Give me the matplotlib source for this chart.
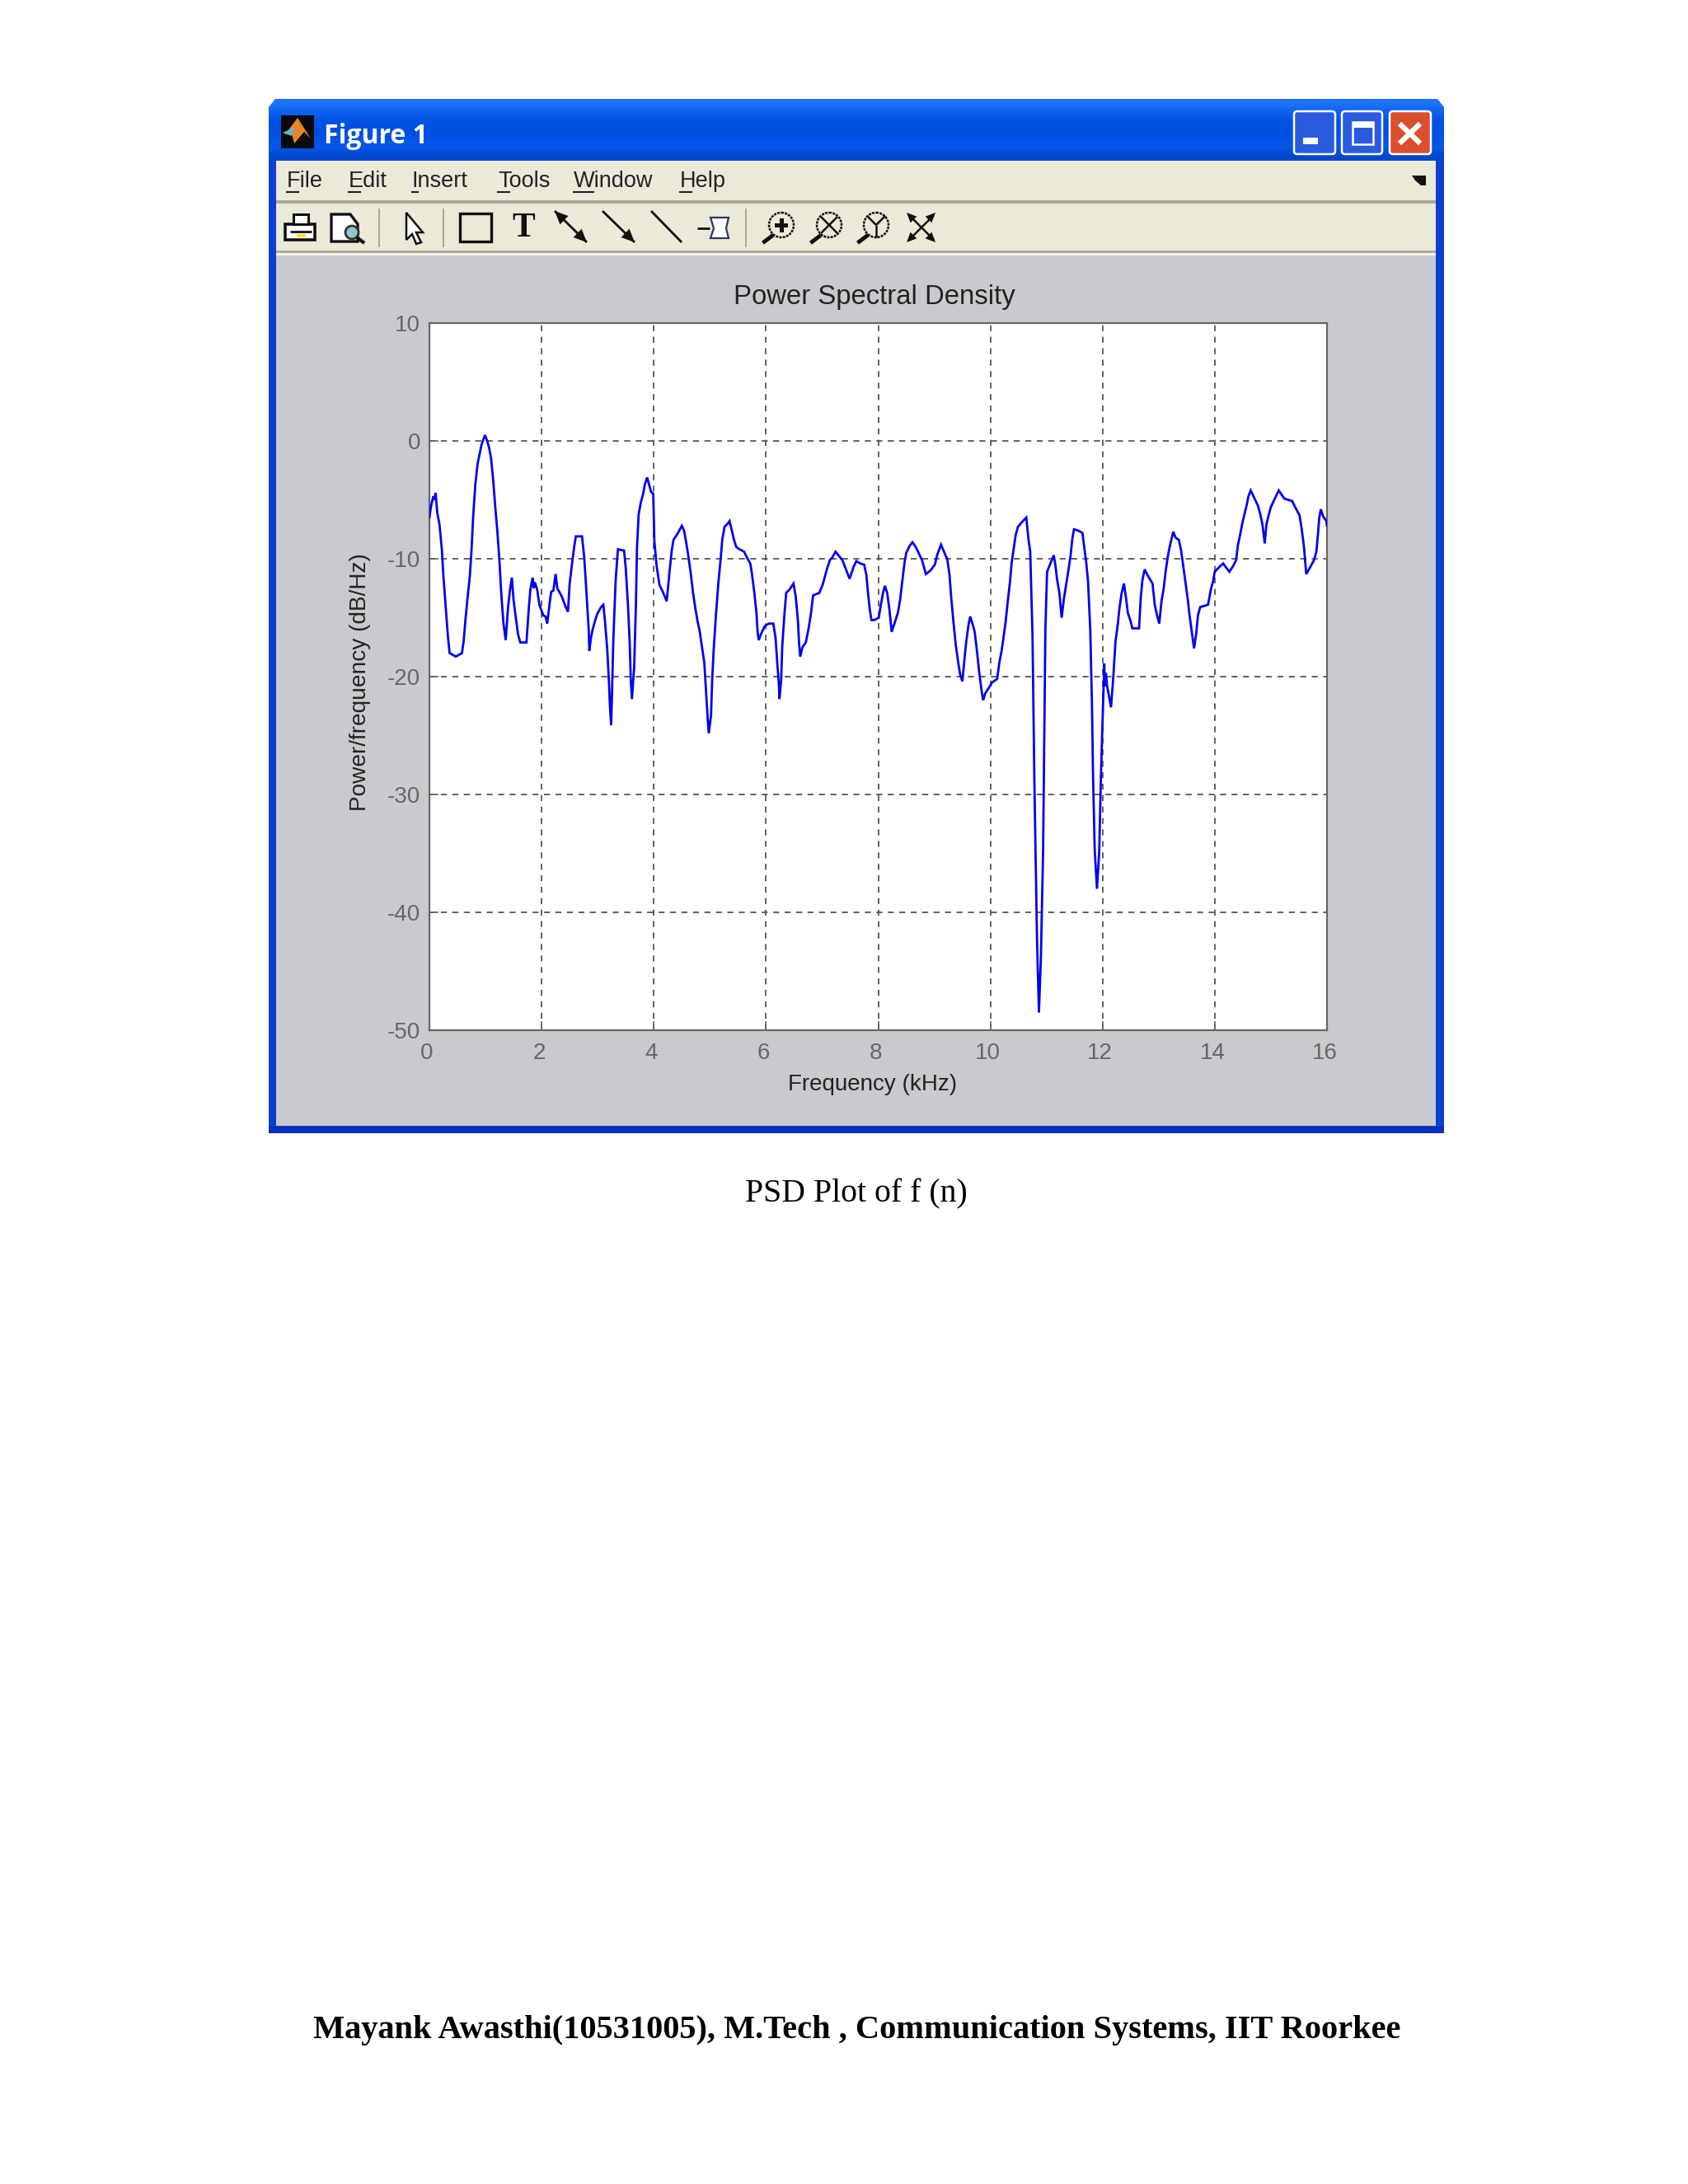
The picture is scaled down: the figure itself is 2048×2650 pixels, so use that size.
#!/usr/bin/env python3
import numpy as np
import matplotlib
matplotlib.use("Agg")
import matplotlib.pyplot as plt
from matplotlib.patches import Rectangle, Polygon, Circle, FancyBboxPatch
from matplotlib.transforms import ScaledTranslation

plt.rcParams["axes.unicode_minus"] = False

# PSD trace
freq_khz = [
    0.00, 0.03, 0.07, 0.09, 0.11, 0.14, 0.18, 0.22, 0.25, 0.29, 0.33, 0.36, 0.47, 0.58, 0.61, 0.64, 0.68, 0.72, 0.75, 0.78,
    0.82, 0.86, 0.89, 0.93, 0.99, 1.03, 1.06, 1.10, 1.14, 1.17, 1.21, 1.25, 1.28, 1.32, 1.36, 1.40, 1.44, 1.47, 1.50, 1.54,
    1.58, 1.62, 1.73, 1.77, 1.80, 1.84, 1.86, 1.88, 1.92, 1.96, 2.03, 2.07, 2.10, 2.14, 2.17, 2.21, 2.25, 2.28, 2.36, 2.43,
    2.47, 2.50, 2.54, 2.58, 2.61, 2.72, 2.76, 2.80, 2.84, 2.85, 2.88, 2.91, 2.95, 2.99, 3.06, 3.10, 3.13, 3.17, 3.20, 3.22,
    3.24, 3.28, 3.32, 3.36, 3.47, 3.50, 3.54, 3.57, 3.59, 3.61, 3.65, 3.68, 3.70, 3.73, 3.77, 3.81, 3.84, 3.88, 3.91, 3.95,
    3.99, 4.01, 4.05, 4.10, 4.16, 4.23, 4.28, 4.32, 4.35, 4.42, 4.50, 4.54, 4.58, 4.62, 4.66, 4.70, 4.74, 4.78, 4.82, 4.85,
    4.90, 4.93, 4.96, 4.98, 5.02, 5.04, 5.07, 5.11, 5.15, 5.19, 5.22, 5.26, 5.32, 5.35, 5.39, 5.43, 5.47, 5.53, 5.61, 5.66,
    5.72, 5.75, 5.79, 5.83, 5.85, 5.87, 5.91, 5.95, 5.98, 6.05, 6.13, 6.17, 6.20, 6.23, 6.24, 6.27, 6.29, 6.33, 6.36, 6.42,
    6.49, 6.53, 6.57, 6.59, 6.61, 6.65, 6.71, 6.76, 6.80, 6.84, 6.95, 7.01, 7.05, 7.09, 7.14, 7.18, 7.24, 7.29, 7.36, 7.49,
    7.56, 7.61, 7.68, 7.75, 7.79, 7.82, 7.85, 7.88, 7.93, 8.01, 8.04, 8.09, 8.12, 8.16, 8.20, 8.24, 8.29, 8.35, 8.39, 8.43,
    8.47, 8.50, 8.56, 8.61, 8.67, 8.73, 8.78, 8.82, 8.85, 8.93, 9.01, 9.05, 9.12, 9.19, 9.23, 9.27, 9.30, 9.34, 9.38, 9.42,
    9.46, 9.50, 9.54, 9.57, 9.61, 9.64, 9.68, 9.72, 9.76, 9.80, 9.84, 9.87, 9.91, 9.98, 10.03, 10.12, 10.16, 10.20, 10.23, 10.27,
    10.31, 10.35, 10.38, 10.42, 10.45, 10.49, 10.56, 10.64, 10.68, 10.71, 10.75, 10.785, 10.83, 10.865, 10.90, 10.94, 10.96, 10.98, 11.01, 11.07,
    11.13, 11.16, 11.19, 11.23, 11.27, 11.31, 11.35, 11.39, 11.43, 11.46, 11.49, 11.56, 11.64, 11.67, 11.71, 11.74, 11.78, 11.81, 11.83, 11.86,
    11.90, 11.94, 11.97, 12.01, 12.03, 12.04, 12.06, 12.08, 12.12, 12.15, 12.19, 12.21, 12.23, 12.27, 12.30, 12.34, 12.38, 12.42, 12.45, 12.50,
    12.53, 12.65, 12.68, 12.71, 12.75, 12.79, 12.89, 12.93, 12.97, 13.01, 13.05, 13.09, 13.12, 13.16, 13.19, 13.23, 13.26, 13.30, 13.36, 13.40,
    13.44, 13.48, 13.52, 13.55, 13.59, 13.63, 13.67, 13.70, 13.74, 13.88, 13.93, 13.97, 14.00, 14.08, 14.15, 14.21, 14.26, 14.33, 14.38, 14.41,
    14.45, 14.49, 14.53, 14.57, 14.60, 14.64, 14.70, 14.77, 14.81, 14.85, 14.89, 14.92, 14.96, 15.00, 15.07, 15.14, 15.24, 15.38, 15.43, 15.51,
    15.55, 15.59, 15.63, 15.69, 15.77, 15.81, 15.84, 15.86, 15.89, 15.93, 15.99, 16.00,
]
psd_db = [
    -6.5, -5.5, -4.7, -5.0, -4.4, -6.1, -7.1, -9.1, -11.5, -14.1, -16.6, -18.0, -18.3, -18.0, -17.0, -15.3, -13.3, -11.5, -9.3, -6.4,
    -3.6, -1.9, -1.2, -0.3, 0.5, 0.0, -0.5, -1.5, -3.5, -5.4, -7.6, -10.3, -12.9, -15.5, -16.9, -14.2, -12.5, -11.6, -13.5, -15.0,
    -16.4, -17.1, -17.1, -14.3, -12.6, -11.6, -12.5, -12.0, -12.6, -13.9, -14.8, -14.9, -15.5, -13.9, -12.8, -12.7, -11.3, -12.5, -13.2, -14.1,
    -14.5, -12.1, -10.5, -9.0, -8.1, -8.1, -9.9, -12.9, -16.1, -17.8, -16.7, -16.0, -15.3, -14.7, -14.1, -13.9, -15.3, -17.7, -20.4, -22.7,
    -24.1, -16.7, -11.8, -9.2, -9.3, -10.8, -14.0, -17.1, -20.3, -21.9, -19.2, -14.1, -9.1, -6.2, -5.2, -4.5, -3.7, -3.1, -3.6, -4.3,
    -4.5, -8.5, -10.6, -12.2, -12.8, -13.6, -11.1, -9.3, -8.4, -7.9, -7.2, -7.6, -8.7, -9.9, -11.3, -12.9, -14.2, -15.3, -16.2, -17.2,
    -18.8, -21.2, -23.5, -24.8, -23.3, -20.3, -17.5, -14.6, -12.1, -10.1, -8.4, -7.3, -7.0, -6.8, -7.6, -8.4, -9.0, -9.2, -9.4, -9.9,
    -10.4, -11.3, -12.8, -14.6, -16.2, -16.9, -16.4, -16.0, -15.7, -15.5, -15.5, -16.7, -18.8, -20.7, -21.9, -20.3, -17.4, -14.6, -12.9, -12.6,
    -12.1, -13.2, -15.3, -17.2, -18.3, -17.5, -17.1, -15.9, -14.7, -13.1, -12.9, -12.2, -11.5, -10.8, -10.1, -9.9, -9.4, -9.7, -10.1, -11.7,
    -10.7, -10.2, -10.4, -10.5, -11.4, -13.0, -14.3, -15.2, -15.2, -15.0, -14.1, -12.8, -12.3, -12.9, -14.3, -16.2, -15.5, -14.6, -13.5, -11.9,
    -10.3, -9.5, -8.9, -8.6, -9.0, -9.6, -10.1, -10.8, -11.3, -11.0, -10.5, -9.7, -8.8, -9.6, -10.0, -11.3, -13.2, -15.3, -17.2, -18.6,
    -19.8, -20.4, -18.4, -17.0, -15.6, -14.9, -15.5, -16.2, -17.8, -19.6, -21.1, -22.0, -21.4, -20.9, -20.5, -20.2, -18.8, -17.8, -16.8, -15.4,
    -13.6, -11.9, -10.3, -9.0, -8.0, -7.3, -6.9, -6.5, -8.4, -9.4, -16.4, -29.2, -42.1, -48.5, -43.9, -34.6, -25.3, -16.0, -11.1, -10.4,
    -9.7, -10.6, -11.8, -12.9, -15.0, -13.4, -12.2, -11.0, -9.7, -8.3, -7.5, -7.6, -7.8, -8.9, -10.4, -11.9, -16.0, -22.2, -28.5, -34.8,
    -38.0, -34.8, -28.5, -22.2, -18.9, -20.8, -19.7, -20.8, -21.8, -22.6, -20.1, -18.6, -17.0, -15.6, -14.2, -12.9, -12.1, -13.4, -14.6, -15.3,
    -15.9, -15.9, -13.3, -11.8, -10.9, -11.3, -12.1, -13.9, -14.8, -15.5, -13.6, -12.5, -11.2, -9.9, -9.1, -8.3, -7.7, -8.2, -8.4, -9.3,
    -10.7, -12.1, -13.5, -14.8, -16.2, -17.6, -16.3, -14.8, -14.1, -13.9, -12.6, -11.9, -11.1, -10.7, -10.4, -10.8, -11.1, -10.6, -10.1, -8.9,
    -8.0, -7.0, -6.2, -5.4, -4.7, -4.2, -4.8, -5.5, -6.2, -7.1, -8.7, -7.1, -6.3, -5.6, -4.9, -4.2, -4.9, -5.1, -5.6, -6.3,
    -7.5, -9.0, -11.3, -10.8, -10.1, -9.4, -7.9, -6.6, -5.8, -6.4, -6.8, -7.2,
]
x_ticks = [0, 2, 4, 6, 8, 10, 12, 14, 16]
y_ticks = [-50, -40, -30, -20, -10, 0, 10]
menu_items = ["File", "Edit", "Insert", "Tools", "Window", "Help"]

W, H = 2048, 2650
SANS = "Liberation Sans"
SERIF = "Liberation Serif"
UI = "Open Sans"
BEIGE = "#ECE9D8"
GREY = "#C9CACD"
INK = "#111111"
menu_x = [348, 423, 500, 604, 696, 825]
menu_w = [14, 14, 7, 14, 24, 14]

fig = plt.figure(figsize=(W / 100, H / 100), dpi=100, facecolor="white")
page = fig.add_axes([0, 0, 1, 1], zorder=0)
page.set_axis_off()


def rect(x0, y0, x1, y1, color, **kw):
    page.add_patch(Rectangle((x0, y0), x1 - x0, y1 - y0, facecolor=color, edgecolor="none", **kw))


def box(x0, y0, x1, y1, lw=2.0, color=INK, face="none"):
    page.add_patch(Rectangle((x0, y0), x1 - x0, y1 - y0, facecolor=face, edgecolor=color, linewidth=lw))


def seg(x, y, lw=1.8, color=INK):
    page.plot(x, y, color=color, linewidth=lw, solid_capstyle="butt")


def arrow_head(tip, back, size):
    tip, back = np.array(tip, float), np.array(back, float)
    d = (tip - back) / np.hypot(*(tip - back))
    n = np.array([-d[1], d[0]])
    page.add_patch(Polygon([tip, tip - d * size + n * size * 0.45, tip - d * size - n * size * 0.45], color=INK, lw=0))


def magnifier(cx, cy, r=15):
    page.add_patch(Circle((cx, cy), r, facecolor=BEIGE, edgecolor=INK, linewidth=1.8, linestyle=(0, (1.2, 0.5))))
    seg([cx - r * 0.65, cx - r * 1.5], [cy + r * 0.8, cy + r * 1.45], lw=3.5)


# window frame and title bar
rect(326, 120, 1752, 1375, "#0B3FD0", zorder=0)
grad = np.array([[0.12, 0.45, 0.98], [0.05, 0.38, 0.93], [0.0, 0.33, 0.89], [0.0, 0.31, 0.88],
                 [0.0, 0.33, 0.90], [0.02, 0.34, 0.92], [0.0, 0.28, 0.80]]).reshape(-1, 1, 3)
page.imshow(grad, extent=(326, 1752, 195, 120), aspect="auto", interpolation="bilinear", zorder=0.5)
rect(335, 195, 1742, 1366, GREY, zorder=1)
rect(326, 1367, 1752, 1375, "#0A2FB8", zorder=1)
rect(335, 195, 1742, 243, BEIGE, zorder=1)
rect(335, 243, 1742, 247, "#ACA899", zorder=1)
rect(335, 247, 1742, 304, BEIGE, zorder=1)
rect(335, 304, 1742, 307, "#ACA899", zorder=1)
rect(335, 307, 1742, 310, "#F2F1EA", zorder=1)
# rounded top corners of the window
page.add_patch(Polygon([(326, 120), (334, 120), (326, 130)], color="white", lw=0, zorder=1))
page.add_patch(Polygon([(1752, 120), (1744, 120), (1752, 130)], color="white", lw=0, zorder=1))

# matlab icon
rect(341, 140, 381, 180, "#0A0A0A", zorder=2)
page.add_patch(Polygon([(346, 163), (361, 143), (377, 168), (369, 160), (357, 174), (354, 162)], color="#E8842A", lw=0, zorder=3))
page.add_patch(Polygon([(343, 161), (358, 154), (354, 165)], color="#5CB8C8", lw=0, zorder=3))
page.text(393, 165, "Figure 1", family=UI, weight="bold", color="white", fontsize=23, va="center", ha="left", zorder=4)

# title bar buttons
for x0, x1, col in [(1570, 1620, "#2A5BDE"), (1628, 1677, "#2A5BDE"), (1686, 1736, "#D9512C")]:
    page.add_patch(FancyBboxPatch((x0 + 4, 139), x1 - x0 - 8, 44, boxstyle="round,pad=4", facecolor=col, edgecolor="white", linewidth=1.8, zorder=3))
rect(1581, 167, 1599, 175, "white", zorder=4)
page.add_patch(Rectangle((1641, 148), 25, 27, facecolor="none", edgecolor="white", linewidth=1.8, zorder=4))
rect(1641, 148, 1666, 155, "white", zorder=4)
seg([1698, 1723], [150, 174], lw=4.5, color="white")
seg([1698, 1723], [174, 150], lw=4.5, color="white")
page.lines[-1].set_zorder(4)
page.lines[-2].set_zorder(4)

# menu bar
for name, mx, mw in zip(menu_items, menu_x, menu_w):
    page.text(mx, 220, name, family=SANS, color="#222222", fontsize=19.5, va="center", ha="left", zorder=4)
    page.plot([mx, mx + mw], [233, 233], color="#222222", linewidth=1.5, zorder=4)
page.add_patch(Polygon([(1713, 213), (1730, 213), (1730, 225), (1724, 225), (1717, 219)], color=INK, lw=0, zorder=4))

# toolbar icons
page.set_autoscale_on(False)
for s in (460, 538, 905):
    rect(s - 1, 253, s + 1, 300, "#ACA899", zorder=2)
z0 = len(page.patches)
l0 = len(page.lines)
# printer
box(346, 272, 382, 291, lw=2.6, face="white")
box(356, 260, 374, 272, lw=2.2, face="white")
seg([352, 378], [281, 281], lw=2.0)
rect(360, 284, 371, 288, "#F2E23A")
# page preview
page.add_patch(Polygon([(402, 260), (425, 260), (434, 272), (434, 293), (402, 293)], facecolor="white", edgecolor=INK, linewidth=2.4))
page.add_patch(Circle((427, 282), 8, facecolor="#8FC8C8", edgecolor="#333333", linewidth=2.0))
seg([433, 442], [288, 295], lw=3)
# pointer
page.add_patch(Polygon([(493, 258), (513, 282), (505, 282), (511, 294), (505, 296), (500, 284), (493, 291)], facecolor="white", edgecolor=INK, linewidth=1.8))
# rectangle and text tools
box(558, 259, 596, 293, lw=2.4)
page.text(635, 277, "T", family=SERIF, weight="bold", fontsize=30, color=INK, ha="center", va="center")
# arrows
seg([673, 712], [256, 294], lw=2.0)
arrow_head((673, 256), (712, 294), 16)
arrow_head((712, 294), (673, 256), 16)
seg([731, 770], [256, 294], lw=2.0)
arrow_head((770, 294), (731, 256), 16)
seg([790, 827], [256, 294], lw=2.0)
# pin
seg([846, 861], [277, 277], lw=2.0)
page.add_patch(Polygon([(862, 264), (884, 264), (881, 277), (884, 289), (862, 289), (866, 277)], facecolor="white", edgecolor="#333366", linewidth=1.6))
# zooms
magnifier(948, 273)
rect(940, 271, 956, 276, INK, zorder=3)
rect(946, 265, 951, 282, INK, zorder=3)
magnifier(1006, 273)
seg([996, 1016], [263, 283])
seg([996, 1016], [283, 263])
magnifier(1063, 273)
seg([1063, 1063], [273, 288])
seg([1052, 1063], [262, 273])
seg([1074, 1063], [262, 273])
# expand
seg([1103, 1133], [261, 291])
seg([1103, 1133], [291, 261])
for tip, back in [((1100, 258), (1120, 278)), ((1135, 258), (1115, 278)), ((1100, 294), (1120, 274)), ((1135, 294), (1115, 274))]:
    arrow_head(tip, back, 12)
for p in page.patches[z0:]:
    if p.get_zorder() < 2.5:
        p.set_zorder(2.5)
for ln in page.lines[l0:]:
    ln.set_zorder(2.6)

# captions
page.text(1039, 1449, "PSD Plot of f (n)", family=SERIF, fontsize=28.6, color="black", ha="center", va="center")
page.text(1040, 2464, "Mayank Awasthi(10531005), M.Tech , Communication Systems, IIT Roorkee",
          family=SERIF, weight="bold", fontsize=29.1, color="black", ha="center", va="center")
page.set_xlim(0, W)
page.set_ylim(H, 0)

# the plot itself
ax = fig.add_axes([521 / W, 1 - 1250 / H, 1089 / W, 858 / H], zorder=2, facecolor="white")
ax.plot(freq_khz, psd_db, color="#0000F0", linewidth=2.0, solid_joinstyle="miter", zorder=3)
ax.set_xlim(0, 16)
ax.set_ylim(-50, 10)
ax.set_xticks(x_ticks)
ax.set_yticks(y_ticks)
ax.grid(True, color="#555555", linewidth=1.3, linestyle=(0, (4, 3.7)), zorder=1)
ax.tick_params(direction="in", length=8, width=1.2, color="#666666", labelcolor="#666666", labelsize=20, pad=8)
ax.tick_params(axis="x", pad=11)
for sp in ax.spines.values():
    sp.set_color("#666666")
    sp.set_linewidth(1.6)
shift = ScaledTranslation(-3 / 100, 0, fig.dpi_scale_trans)
for lab in ax.get_xticklabels():
    lab.set_family(SANS)
    lab.set_transform(lab.get_transform() + shift)
for lab in ax.get_yticklabels():
    lab.set_family(SANS)
page.text(1061, 360, "Power Spectral Density", family=SANS, fontsize=23.7, color="#222222", ha="center", va="center", zorder=4)
page.text(1059, 1316, "Frequency (kHz)", family=SANS, fontsize=20, color="#222222", ha="center", va="center", zorder=4)
page.text(437, 828, "Power/frequency (dB/Hz)", family=SANS, fontsize=20.2, color="#222222", ha="center", va="center", rotation=90, zorder=4)

fig.savefig("out.png", dpi=100, facecolor="white")
